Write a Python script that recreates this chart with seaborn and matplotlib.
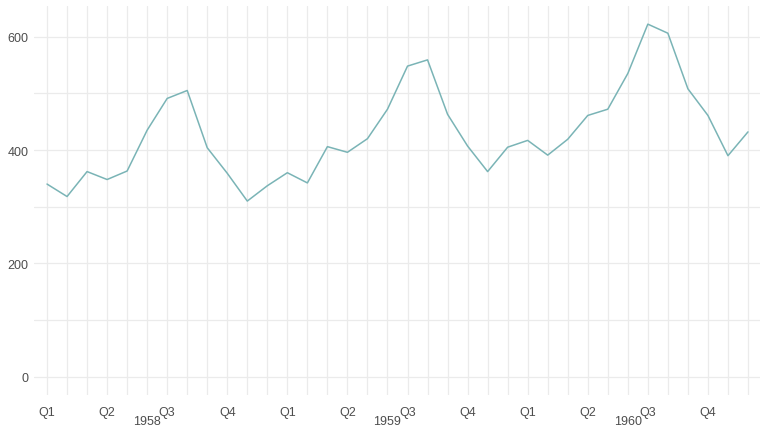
import numpy as np
import pandas as pd
import seaborn as sns
import matplotlib.pyplot as plt
import matplotlib.transforms as mtransforms

years = [1958, 1959, 1960]
quarters = ["Q1", "Q2", "Q3", "Q4"]
passengers = [340, 318, 362, 348, 363, 435, 491, 505, 404, 359, 310, 337,
              360, 342, 406, 396, 420, 472, 548, 559, 463, 407, 362, 405,
              417, 391, 419, 461, 472, 535, 622, 606, 508, 461, 390, 432]

df = pd.DataFrame({"month": np.arange(len(passengers)), "value": passengers})

sns.set_style("white")
plt.rcParams['font.family'] = ['Liberation Sans', 'DejaVu Sans']

fig = plt.figure(figsize=(7.68, 4.35), dpi=100)
ax = fig.add_axes([34 / 768, 39 / 435, 726 / 768, 389 / 435])

sns.lineplot(data=df, x="month", y="value", ax=ax, color="#7ab4b6", linewidth=1.1)

# gridlines every month and every 100
ax.set_xticks(np.arange(0, 36), minor=True)
ax.set_yticks([0, 200, 400, 600])
ax.set_yticks([100, 300, 500], minor=True)
ax.grid(True, which="both", color="#ebebeb", linewidth=0.9)
ax.set_axisbelow(True)

qpos = [y * 12 + q * 3 for y in range(len(years)) for q in range(4)]
ax.set_xticks(qpos)
ax.set_xticklabels(quarters * len(years))
ax.tick_params(axis="both", which="both", length=0, labelsize=9, colors="#4d4d4d")
ax.tick_params(axis="x", pad=8)
ax.tick_params(axis="y", pad=4)

ax.set_xlim(-0.65, 35.6)
ax.set_ylim(-32, 654)

trans = mtransforms.blended_transform_factory(ax.transData, ax.transAxes)
for i, yr in enumerate(years):
    ax.text(i * 12 + 5, -0.052, str(yr), transform=trans, ha="center", va="top",
            fontsize=9, color="#4d4d4d")

for s in ax.spines.values():
    s.set_visible(False)
ax.set_xlabel("")
ax.set_ylabel("")

fig.savefig("out.png", dpi=100)
